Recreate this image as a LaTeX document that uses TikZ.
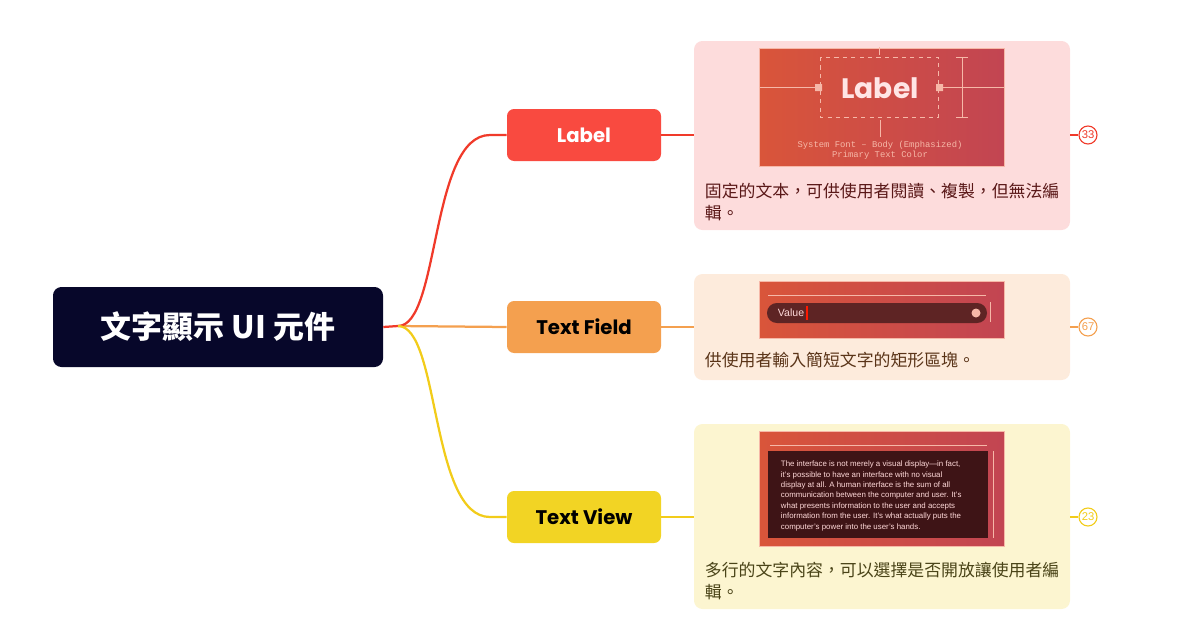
\documentclass[tikz,border=0pt]{standalone}
\usepackage{fontspec}
\setmainfont{Noto Sans CJK TC}
\newfontfamily\pop{Poppins}
\newfontfamily\lsans{Liberation Sans}
\newfontfamily\lmono{Liberation Mono}
\usetikzlibrary{calc}
\definecolor{rootc}{HTML}{07072A}
\definecolor{redc}{HTML}{F94A40}
\definecolor{orac}{HTML}{F4A04F}
\definecolor{yelc}{HTML}{F2D424}
\definecolor{redl}{HTML}{F03A2A}
\definecolor{yell}{HTML}{F2CC1A}
\definecolor{card1}{HTML}{FDDCDC}
\definecolor{card2}{HTML}{FDEBDC}
\definecolor{card3}{HTML}{FCF5D0}
\definecolor{t1}{HTML}{5A1818}
\definecolor{t2}{HTML}{5A3418}
\definecolor{t3}{HTML}{4A4418}
\definecolor{imgl}{HTML}{D9553A}
\definecolor{imgr}{HTML}{C24552}
\definecolor{pale}{HTML}{F6B8A8}
\definecolor{barc}{HTML}{5E2424}
\definecolor{boxc}{HTML}{3E1416}
\tikzset{
  branch/.style={rounded corners=5pt, minimum width=154*0.025cm, minimum height=52*0.025cm, inner sep=0pt, font=\pop\fontsize{14}{16}\selectfont\bfseries},
  cardtext/.style={anchor=west, font=\fontsize{12}{14}\selectfont},
  cnt/.style={circle, draw, line width=0.8pt, fill=white, minimum size=18*0.025cm, inner sep=0pt, font=\lsans\fontsize{8}{9}\selectfont},
  img/.style={left color=imgl, right color=imgr, draw=pale, line width=0.4pt},
  conn/.style={line width=1.6pt},
}
\begin{document}
\begin{tikzpicture}[x=0.025cm,y=-0.025cm]
\useasboundingbox (0,0) rectangle (1200,639);
% cards
\fill[card1, rounded corners=6pt] (694,41) rectangle (1070,230);
\fill[card2, rounded corners=6pt] (694,274) rectangle (1070,380);
\fill[card3, rounded corners=6pt] (694,424) rectangle (1070,609);
% root
\node[fill=rootc, rounded corners=6pt, minimum width=330*0.025cm, minimum height=80*0.025cm, inner sep=0pt, text=white, font=\fontsize{22}{24}\selectfont\bfseries] (root) at (218,327) {文字顯示 UI 元件};
\coordinate (hub) at (398,326);
\node[branch, fill=redc, text=white] (lab) at (584,135) {Label};
\node[branch, fill=orac, text=black] (tf) at (584,327) {Text Field};
\node[branch, fill=yelc, text=black] (tv) at (584,517) {Text View};
\draw[conn, orac] (hub) -- (tf.west);
\draw[conn, redl] (root.east) -- (hub) .. controls (440,326) and (430,135) .. (490,135) -- (lab.west);
\draw[conn, yell] (hub) .. controls (440,326) and (430,517) .. (490,517) -- (tv.west);
\draw[conn, redl] (lab.east) -- (694,135);
\draw[conn, orac] (tf.east) -- (694,327);
\draw[conn, yell] (tv.east) -- (694,517);
% counts
\node[cnt, draw=redl, text=redl] (c1) at (1088,135) {33};
\node[cnt, draw=orac, text=orac] (c2) at (1088,327) {67};
\node[cnt, draw=yell, text=yell] (c3) at (1088,517) {23};
\coordinate (e1) at (1070,135); \coordinate (e2) at (1070,327); \coordinate (e3) at (1070,517);
\draw[conn, redl] (e1) -- (c1.west);
\draw[conn, orac] (e2) -- (c2.west);
\draw[conn, yell] (e3) -- (c3.west);
% image 1
\shade[img] (759,48) rectangle (1004,166);
\draw[pale, line width=0.6pt] (759,87) -- (818,87) (940,87) -- (1004,87) (880,120) -- (880,137) (879,47) -- (879,55);
\draw[pale, line width=0.6pt, dashed] (820,57) rectangle (938,117);
\fill[pale] (815,84) rectangle (822,91) (936,84) rectangle (943,91);
\draw[pale, line width=0.6pt] (962,57) -- (962,117) (956,57) -- (968,57) (956,117) -- (968,117);
\node[text=white!90!red, font=\pop\fontsize{20}{22}\selectfont\bfseries] (lt) at (880,88) {Label};
\node[text=pale, font=\lmono\fontsize{6.3}{7.5}\selectfont, align=center] (lc) at (880,150) {System Font – Body (Emphasized)\\Primary Text Color};
\node[cardtext, text=t1] (d1) at (700,191) {固定的文本，可供使用者閱讀、複製，但無法編};
\node[cardtext, text=t1] (d1b) at (700,213) {輯。};
% image 2
\shade[img] (759,281) rectangle (1004,338);
\draw[pale, line width=0.5pt] (768,295) -- (986,295) (990,302) -- (990,322);
\fill[barc, rounded corners=7pt] (767,303) rectangle (987,323);
\node[anchor=west, text=white!85!red, font=\lsans\fontsize{7.5}{8}\selectfont] (val) at (773,313) {Value};
\draw[red!80!orange, line width=0.8pt] (807,306) -- (807,320);
\fill[pale] (976,313) circle (4.5);
% image 3
\shade[img] (759,431) rectangle (1004,546);
\fill[boxc] (768,451) rectangle (988,538);
\draw[pale, line width=0.5pt] (770,445) -- (987,445) (993,451) -- (993,538);
\node[anchor=north west, text=white!85!red, font=\lsans\fontsize{5.6}{7.4}\selectfont, align=left] (para) at (776,456) {The interface is not merely a visual display—in fact,\\it’s possible to have an interface with no visual\\display at all. A human interface is the sum of all\\communication between the computer and user. It’s\\what presents information to the user and accepts\\information from the user. It’s what actually puts the\\computer’s power into the user’s hands.};
\node[cardtext, text=t2] (d2) at (700,360) {供使用者輸入簡短文字的矩形區塊。};
\node[cardtext, text=t3] (d3) at (700,570) {多行的文字內容，可以選擇是否開放讓使用者編};
\node[cardtext, text=t3] (d3b) at (700,592) {輯。};
\end{tikzpicture}
\end{document}
